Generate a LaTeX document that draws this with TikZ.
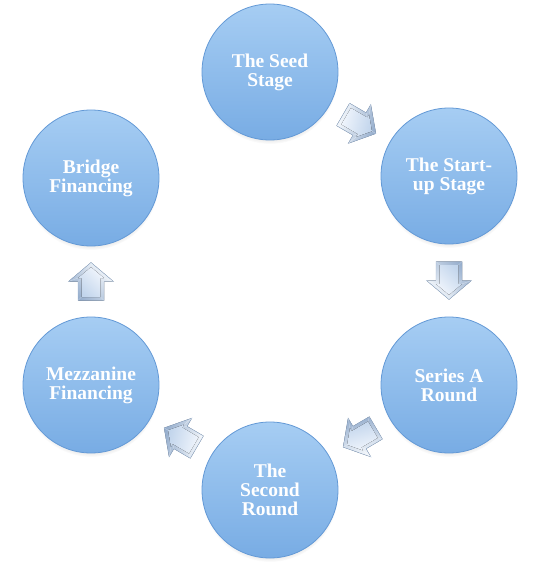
\documentclass[tikz,border=0pt]{standalone}
\usepackage{fontspec}
\setmainfont{Liberation Serif}
\usetikzlibrary{calc,shadows,fadings}
\definecolor{bubTop}{HTML}{A6CDF3}
\definecolor{bubMid}{HTML}{88B9EA}
\definecolor{bubBot}{HTML}{78ACE4}
\definecolor{bubRim}{HTML}{6399D6}
\definecolor{arrHi}{HTML}{F8FBFE}
\definecolor{arrLo}{HTML}{96AECD}
\definecolor{faceHi}{HTML}{F0F5FC}
\definecolor{faceLo}{HTML}{C2D5EC}
\tikzset{
  stage/.style={circle, minimum size=136pt, inner sep=0pt,
    top color=bubTop, middle color=bubMid, bottom color=bubBot,
    draw=bubRim, line width=0.8pt, text=white, align=center,
    font=\bfseries\fontsize{19.5}{19}\selectfont,
    circular drop shadow={shadow xshift=0pt, shadow yshift=-4pt, shadow scale=1.0, opacity=0.35}},
  barrow/.pic={
    \fill[draw=arrLo, line width=0.4pt, top color=arrHi, bottom color=arrLo, shading angle={45-#1}]
      (-19,-13) -- (0,-13) -- (0,-22.5) -- (19,0) -- (0,22.5) -- (0,13) -- (-19,13) -- cycle;
    \fill[top color=faceHi, bottom color=faceLo, shading angle={45-#1}]
      (-15.5,-9.5) -- (3.5,-9.5) -- (3.5,-12.9) -- (14.4,0) -- (3.5,12.9) -- (3.5,9.5) -- (-15.5,9.5) -- cycle;
    \draw[white, opacity=0.5, line width=0.3pt]
      (-19,-13) -- (-15.5,-9.5) (0,-13) -- (3.5,-9.5) (0,-22.5) -- (3.5,-12.9) (19,0) -- (14.4,0)
      (0,22.5) -- (3.5,12.9) (0,13) -- (3.5,9.5) (-19,13) -- (-15.5,9.5);
  }
}
\begin{document}
\begin{tikzpicture}[x=1pt, y=-1pt]
\useasboundingbox (0,0) rectangle (542,569);
\node[stage] (seed) at (270,72) {The Seed\\Stage};
\node[stage] (startup) at (449,176) {The Start-\\up Stage};
\node[stage] (seriesa) at (449,385) {Series A\\Round};
\node[stage] (second) at (270,490) {The\\Second\\Round};
\node[stage] (mezz) at (91,385) {Mezzanine\\Financing};
\node[stage] (bridge) at (91,178) {Bridge\\Financing};
\foreach \a/\b in {seed/startup, startup/seriesa, seriesa/second, second/mezz, mezz/bridge}{
  \path let \p1=($(\b)-(\a)$), \n1={atan2(\y1,\x1)} in
    ($(\a)!0.5!(\b)$) pic[rotate=\n1] {barrow=\n1};
}
\end{tikzpicture}
\end{document}
